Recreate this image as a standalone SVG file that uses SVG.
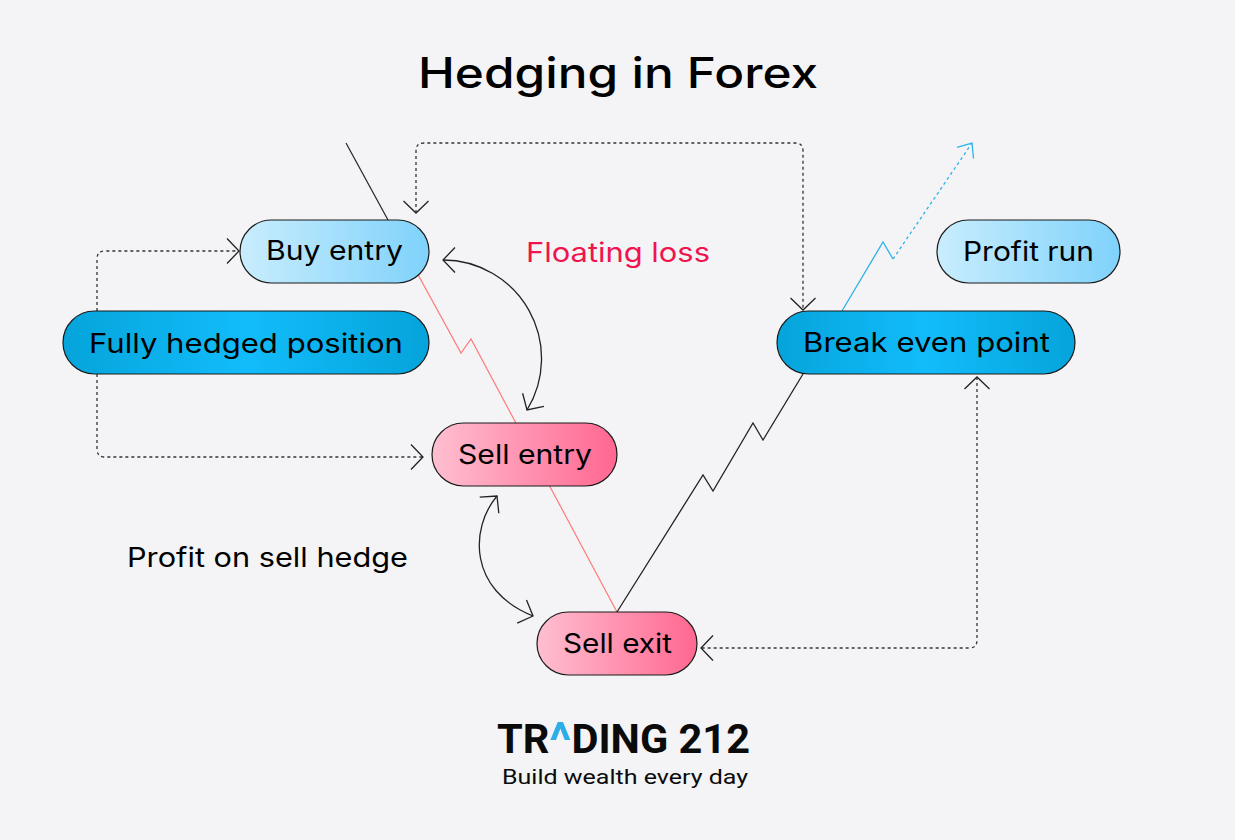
<svg xmlns="http://www.w3.org/2000/svg" width="1235" height="840" viewBox="0 0 1235 840">
<defs>
<linearGradient id="gLight" x1="0" y1="0" x2="1" y2="0"><stop offset="0" stop-color="#c9edfd"/><stop offset="1" stop-color="#7fd2fb"/></linearGradient>
<linearGradient id="gDark" x1="0" y1="0" x2="1" y2="0"><stop offset="0" stop-color="#05a4db"/><stop offset="0.5" stop-color="#12bcfa"/><stop offset="1" stop-color="#05a4db"/></linearGradient>
<linearGradient id="gPink" x1="0" y1="0" x2="1" y2="0"><stop offset="0" stop-color="#ffbfd1"/><stop offset="1" stop-color="#ff6790"/></linearGradient>
<marker id="arr" viewBox="-14 -14 16 28" refX="0" refY="0" markerWidth="16" markerHeight="28" markerUnits="userSpaceOnUse" orient="auto-start-reverse">
<path d="M-12,-12.5 L0,0 L-12,12.5" fill="none" stroke="#222" stroke-width="1.3"/>
</marker>
<marker id="arrBlue" viewBox="-14 -14 16 28" refX="0" refY="0" markerWidth="16" markerHeight="28" markerUnits="userSpaceOnUse" orient="auto">
<path d="M-12,-10 L0,0 L-12,10" fill="none" stroke="#2bb3e6" stroke-width="1.3"/>
</marker>
</defs>
<style>
.node rect{stroke:#1a1a1a;stroke-width:1.2}
.lbl{font-family:Inter,"Noto Sans",sans-serif;font-size:27px;fill:#000;text-anchor:middle}
.dash{fill:none;stroke:#333;stroke-width:1.3;stroke-dasharray:3 3}
.solid{fill:none;stroke:#222;stroke-width:1.3}
</style>
<rect width="1235" height="840" fill="#f4f4f6"/>
<text x="618" y="88" font-family="Inter,'Noto Sans',sans-serif" font-size="42" font-weight="500" text-anchor="middle" textLength="400" lengthAdjust="spacingAndGlyphs">Hedging in Forex</text>
<g id="connectors">
<line x1="346" y1="143" x2="388" y2="220" stroke="#222" stroke-width="1.2"/>
<polyline points="388,220 461,353 471,339 617,612" fill="none" stroke="#ff7a7a" stroke-width="1.2"/>
<polyline points="617,612 703,475 713,491 753,423 763,440 803,374" fill="none" stroke="#222" stroke-width="1.3"/>
<polyline points="842,311 883,242 893,259" fill="none" stroke="#2bb3e6" stroke-width="1.3"/>
<line x1="893" y1="259" x2="972" y2="143" stroke="#2bb3e6" stroke-width="1.3" stroke-dasharray="3 3" marker-end="url(#arrBlue)"/>
<path class="dash" d="M416,213 V151 Q416,143 424,143 H795 Q803,143 803,151 V310" marker-start="url(#arr)" marker-end="url(#arr)"/>
<path class="dash" d="M97,311 V259 Q97,251 105,251 H239" marker-end="url(#arr)"/>
<path class="dash" d="M97,374 V449 Q97,457 105,457 H423" marker-end="url(#arr)"/>
<path class="dash" d="M977,377 V640 Q977,648 969,648 H701" marker-start="url(#arr)" marker-end="url(#arr)"/>
<path class="solid" d="M443,260 A98.5,98.5 0 0 1 527,410" marker-start="url(#arr)" marker-end="url(#arr)"/>
<path class="solid" d="M497,496 C470,528 468,590 533,616" marker-start="url(#arr)" marker-end="url(#arr)"/>
</g>
<g id="buy-entry" class="node"><rect x="240" y="220" width="189" height="63" rx="31.5" fill="url(#gLight)"/><text class="lbl" x="334.5" y="260" textLength="137" lengthAdjust="spacingAndGlyphs">Buy entry</text></g>
<g id="fully-hedged" class="node"><rect x="63" y="311" width="366" height="63" rx="31.5" fill="url(#gDark)"/><text class="lbl" x="246" y="353" textLength="314" lengthAdjust="spacingAndGlyphs">Fully hedged position</text></g>
<g id="sell-entry" class="node"><rect x="432" y="423" width="185" height="63" rx="31.5" fill="url(#gPink)"/><text class="lbl" x="525" y="464" textLength="134" lengthAdjust="spacingAndGlyphs">Sell entry</text></g>
<g id="sell-exit" class="node"><rect x="537" y="612" width="160" height="63" rx="31.5" fill="url(#gPink)"/><text class="lbl" x="617.5" y="653" textLength="109" lengthAdjust="spacingAndGlyphs">Sell exit</text></g>
<g id="break-even" class="node"><rect x="777" y="311" width="298" height="63" rx="31.5" fill="url(#gDark)"/><text class="lbl" x="926.5" y="352" textLength="247" lengthAdjust="spacingAndGlyphs">Break even point</text></g>
<g id="profit-run" class="node"><rect x="937" y="220" width="183" height="63" rx="31.5" fill="url(#gLight)"/><text class="lbl" x="1028.5" y="261" textLength="131" lengthAdjust="spacingAndGlyphs">Profit run</text></g>
<text x="618" y="262" font-family="Inter,'Noto Sans',sans-serif" font-size="27" fill="#f0134d" text-anchor="middle" textLength="184" lengthAdjust="spacingAndGlyphs">Floating loss</text>
<text x="267.5" y="567" font-family="Inter,'Noto Sans',sans-serif" font-size="27" fill="#000" text-anchor="middle" textLength="281" lengthAdjust="spacingAndGlyphs">Profit on sell hedge</text>
<g id="logo">
<text x="497" y="753" font-family="Roboto,'Liberation Sans',sans-serif" font-size="41" font-weight="700" fill="#0b0b0b" textLength="253" lengthAdjust="spacingAndGlyphs">TR<tspan fill="#2eaee8" font-size="50" dy="5">^</tspan><tspan dy="-5">DING 212</tspan></text>
<text x="625" y="784" font-family="Roboto,'Liberation Sans',sans-serif" font-size="21" fill="#0b0b0b" text-anchor="middle" textLength="246" lengthAdjust="spacingAndGlyphs">Build wealth every day</text>
</g>
</svg>
